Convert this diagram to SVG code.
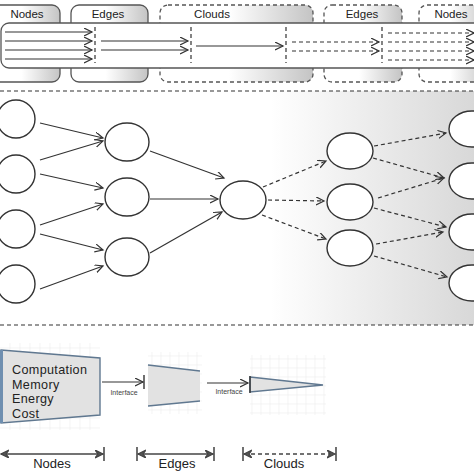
<svg xmlns="http://www.w3.org/2000/svg" width="474" height="474" viewBox="0 0 474 474">
<style>
.tab{stroke:#555;stroke-width:1.3;fill:url(#tabg)}
.dash{stroke-dasharray:4 3}
.lbl{font-family:"Liberation Sans",Arial,sans-serif;fill:#222}
.sm{font-family:"Liberation Sans",Arial,sans-serif;fill:#444}
.ln{stroke:#333;stroke-width:1.2;fill:none;marker-end:url(#ah)}
.dl{stroke:#333;stroke-width:1.2;fill:none;stroke-dasharray:4 3;marker-end:url(#ah)}
.vd{stroke:#333;stroke-width:1.2;stroke-dasharray:4 3}
.nd{fill:#fff;stroke:#333;stroke-width:1.4}
.grid{stroke:#ececec;stroke-width:0.6}
.trap{fill:#e2e2e2;stroke:#607890;stroke-width:1.4}
.dim{stroke:#444;stroke-width:1.6;fill:none;marker-end:url(#dh);marker-start:url(#dh)}
.bar{stroke:#333;stroke-width:1.4}
</style>
<defs>
<linearGradient id="tabg" x1="0" y1="0" x2="1" y2="0">
<stop offset="0" stop-color="#fff"/><stop offset="0.45" stop-color="#fff"/><stop offset="1" stop-color="#c4c4c4"/>
</linearGradient>
<linearGradient id="midg" x1="0" y1="0" x2="1" y2="0">
<stop offset="0" stop-color="#fff"/><stop offset="0.57" stop-color="#fff"/><stop offset="1" stop-color="#d8d8d8"/>
</linearGradient>
<marker id="ah" markerUnits="userSpaceOnUse" markerWidth="12" markerHeight="10" refX="8" refY="4" orient="auto">
<path d="M0,0 L8,4 L0,8" fill="none" stroke="#333" stroke-width="1.2" stroke-dasharray="none"/>
</marker>
<marker id="dh" markerUnits="userSpaceOnUse" markerWidth="12" markerHeight="10" refX="8" refY="4" orient="auto-start-reverse">
<path d="M0,0 L8,4 L0,8 L3,4 Z" fill="#555" stroke="#444" stroke-width="1.2" stroke-dasharray="none"/>
</marker>
</defs>

<g id="top-strip">
<g id="tab-nodes-1"><rect class="tab" x="-10" y="5" width="70" height="77" rx="8"/></g>
<g id="tab-edges-1"><rect class="tab" x="71" y="5" width="77" height="77" rx="8"/></g>
<g id="tab-clouds"><rect class="tab dash" x="160" y="5" width="153" height="77" rx="8"/></g>
<g id="tab-edges-2"><rect class="tab dash" x="324" y="5" width="78" height="77" rx="8"/></g>
<g id="tab-nodes-2"><rect class="tab dash" x="419" y="5" width="70" height="77" rx="8"/></g>
<rect x="1" y="23" width="490" height="45" rx="8" fill="#fff" stroke="#555" stroke-width="1.3"/>
<text class="lbl" x="27" y="18" font-size="11.5" text-anchor="middle">Nodes</text>
<text class="lbl" x="108" y="18" font-size="11.5" text-anchor="middle">Edges</text>
<text class="lbl" x="212" y="18" font-size="11.5" text-anchor="middle">Clouds</text>
<text class="lbl" x="362" y="18" font-size="11.5" text-anchor="middle">Edges</text>
<text class="lbl" x="451" y="18" font-size="11.5" text-anchor="middle">Nodes</text>
</g>

<g id="top-connectors">
<line class="ln" x1="5" y1="32" x2="92" y2="32"/>
<line class="ln" x1="5" y1="41" x2="92" y2="41"/>
<line class="ln" x1="5" y1="50" x2="92" y2="50"/>
<line class="ln" x1="5" y1="59" x2="92" y2="59"/>
<line class="vd" x1="95" y1="27" x2="95" y2="63"/>
<line class="ln" x1="101" y1="41" x2="188" y2="41"/>
<line class="ln" x1="101" y1="50" x2="188" y2="50"/>
<line class="vd" x1="191" y1="27" x2="191" y2="63"/>
<line class="ln" x1="196" y1="46" x2="283" y2="46"/>
<line class="vd" x1="286" y1="27" x2="286" y2="63"/>
<line class="dl" x1="292" y1="42" x2="379" y2="42"/>
<line class="dl" x1="292" y1="51" x2="379" y2="51"/>
<line class="vd" x1="382" y1="27" x2="382" y2="63"/>
<line class="dl" x1="388" y1="33" x2="474" y2="33"/>
<line class="dl" x1="388" y1="42" x2="474" y2="42"/>
<line class="dl" x1="388" y1="51" x2="474" y2="51"/>
<line class="dl" x1="388" y1="60" x2="474" y2="60"/>
</g>

<g id="middle-band">
<rect x="0" y="91" width="474" height="234" fill="url(#midg)"/>
<line class="vd" x1="0" y1="91" x2="474" y2="91"/>
<line class="vd" x1="0" y1="325" x2="474" y2="325"/>
</g>

<g id="n1a"><ellipse class="nd" cx="16" cy="119" rx="19" ry="19"/></g>
<g id="n1b"><ellipse class="nd" cx="16" cy="174" rx="19" ry="19"/></g>
<g id="n1c"><ellipse class="nd" cx="16" cy="229" rx="19" ry="19"/></g>
<g id="n1d"><ellipse class="nd" cx="16" cy="284" rx="19" ry="19"/></g>
<g id="n2a"><ellipse class="nd" cx="127" cy="142" rx="22" ry="19"/></g>
<g id="n2b"><ellipse class="nd" cx="127" cy="197" rx="22" ry="19"/></g>
<g id="n2c"><ellipse class="nd" cx="127" cy="257" rx="22" ry="19"/></g>
<g id="n3"><ellipse class="nd" cx="243" cy="200" rx="23" ry="19"/></g>
<g id="n4a"><ellipse class="nd" cx="350" cy="151" rx="23" ry="18"/></g>
<g id="n4b"><ellipse class="nd" cx="350" cy="202" rx="23" ry="18"/></g>
<g id="n4c"><ellipse class="nd" cx="350" cy="248" rx="23" ry="18"/></g>
<g id="n5a"><ellipse class="nd" cx="472" cy="129" rx="23" ry="18"/></g>
<g id="n5b"><ellipse class="nd" cx="472" cy="181" rx="23" ry="18"/></g>
<g id="n5c"><ellipse class="nd" cx="472" cy="232" rx="23" ry="18"/></g>
<g id="n5d"><ellipse class="nd" cx="472" cy="283" rx="23" ry="18"/></g>

<g id="connectors">
<line class="ln" x1="40" y1="123" x2="103" y2="138"/>
<line class="ln" x1="40" y1="160" x2="103" y2="141"/>
<line class="ln" x1="40" y1="174" x2="103" y2="188"/>
<line class="ln" x1="40" y1="225" x2="103" y2="204"/>
<line class="ln" x1="40" y1="234" x2="103" y2="250"/>
<line class="ln" x1="40" y1="289" x2="103" y2="266"/>
<line class="ln" x1="150" y1="151" x2="224" y2="178"/>
<line class="ln" x1="150" y1="199" x2="218" y2="199"/>
<line class="ln" x1="150" y1="253" x2="222" y2="212"/>
<line class="dl" x1="263" y1="187" x2="326" y2="161"/>
<line class="dl" x1="268" y1="200" x2="324" y2="201"/>
<line class="dl" x1="262" y1="215" x2="326" y2="239"/>
<line class="dl" x1="374" y1="146" x2="446" y2="133"/>
<line class="dl" x1="373" y1="158" x2="444" y2="178"/>
<line class="dl" x1="378" y1="198" x2="444" y2="178"/>
<line class="dl" x1="374" y1="208" x2="446" y2="227"/>
<line class="dl" x1="376" y1="244" x2="443" y2="232"/>
<line class="dl" x1="374" y1="256" x2="447" y2="277"/>
</g>

<g id="bottom-grids">
<path class="grid" d="M10,343V430M20,343V430M30,343V430M40,343V430M50,343V430M60,343V430M70,343V430M80,343V430M90,343V430M0,348H100M0,358H100M0,368H100M0,378H100M0,388H100M0,398H100M0,408H100M0,418H100M0,428H100"/>
<path class="grid" d="M152,352V414M161,352V414M170,352V414M179,352V414M188,352V414M197,352V414M148,356H202M148,365H202M148,374H202M148,383H202M148,392H202M148,401H202M148,410H202"/>
<path class="grid" d="M252,355V415M261,355V415M270,355V415M279,355V415M288,355V415M297,355V415M306,355V415M315,355V415M324,355V415M250,359H326M250,368H326M250,377H326M250,386H326M250,395H326M250,404H326M250,413H326"/>
</g>

<g id="nodes-block">
<polygon class="trap" points="1,350 100,358 100,415 1,423"/>
<line x1="1.5" y1="350" x2="1.5" y2="423" stroke="#6f8fb0" stroke-width="3"/>
<text class="lbl" x="12" y="374" font-size="12.6" letter-spacing="0.35">Computation</text>
<text class="lbl" x="12" y="388.5" font-size="12.6" letter-spacing="0.35">Memory</text>
<text class="lbl" x="12" y="403" font-size="12.6" letter-spacing="0.35">Energy</text>
<text class="lbl" x="12" y="417.5" font-size="12.6" letter-spacing="0.35">Cost</text>
</g>
<g id="edges-block">
<polygon points="148,365 200,371 200,401 148,406" fill="#e2e2e2"/>
<line x1="148" y1="365" x2="200" y2="371" stroke="#607890" stroke-width="1.4"/>
<line x1="148" y1="406" x2="200" y2="401" stroke="#607890" stroke-width="1.4"/>
</g>
<g id="clouds-block">
<polygon class="trap" points="250,377 323,385 250,392"/>
<line x1="250" y1="376" x2="250" y2="393" stroke="#333" stroke-width="1.4"/>
</g>

<g id="bottom-connectors">
<line class="ln" x1="102" y1="382" x2="143" y2="382"/>
<line class="bar" x1="144" y1="375" x2="144" y2="389"/>
<text class="sm" x="124" y="395" font-size="7" text-anchor="middle">Interface</text>
<line class="ln" x1="207" y1="383" x2="248" y2="383"/>
<text class="sm" x="229" y="394" font-size="7" text-anchor="middle">Interface</text>
</g>

<g id="dimensions">
<line class="dim" x1="1" y1="454" x2="103" y2="454"/>
<line class="bar" x1="104" y1="447" x2="104" y2="461"/>
<text class="lbl" x="52" y="468" font-size="13" text-anchor="middle">Nodes</text>
<line class="bar" x1="137" y1="447" x2="137" y2="461"/>
<line class="dim" x1="138" y1="454" x2="213" y2="454"/>
<line class="bar" x1="214" y1="447" x2="214" y2="461"/>
<text class="lbl" x="177" y="468" font-size="13" text-anchor="middle">Edges</text>
<line class="bar" x1="243" y1="447" x2="243" y2="461"/>
<line class="dim" x1="244" y1="454" x2="335" y2="454" stroke-dasharray="4 3"/>
<line class="bar" x1="336" y1="447" x2="336" y2="461"/>
<text class="lbl" x="284" y="468" font-size="13" text-anchor="middle">Clouds</text>
</g>
</svg>
